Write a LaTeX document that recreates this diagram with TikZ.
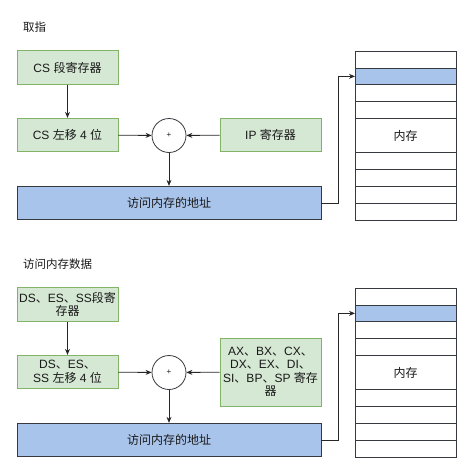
\documentclass[tikz,border=0pt]{standalone}
\usepackage{fontspec}
\setmainfont{Liberation Sans}
\newfontfamily\cjk{Noto Sans CJK SC}
\usetikzlibrary{arrows.meta,positioning}
\definecolor{regfill}{HTML}{D5E8D4}
\definecolor{regline}{HTML}{82B366}
\definecolor{addrfill}{HTML}{A9C4EB}
\definecolor{darkline}{HTML}{36393D}
\begin{document}
\begin{tikzpicture}[
    x=1pt, y=-1pt,
    every node/.style={text=black!90},
    title/.style={anchor=west, inner sep=0pt, font=\cjk\fontsize{11.5}{13.5}\selectfont},
    reg/.style={rectangle, draw=regline, fill=regfill, line width=0.8pt, minimum width=101pt, minimum height=33.5pt, inner sep=1pt, align=center, font=\fontsize{12}{13.5}\selectfont},
    adder/.style={circle, draw=darkline, fill=white, line width=0.8pt, minimum size=34pt, inner sep=0pt, font=\footnotesize},
    addr/.style={rectangle, draw=darkline, fill=addrfill, line width=0.8pt, minimum width=304pt, minimum height=33.5pt, font=\cjk\fontsize{12}{13.5}\selectfont},
    cell/.style={rectangle, draw=darkline, fill=white, line width=0.8pt, minimum width=101pt, minimum height=16.9pt, inner sep=0pt, outer sep=0pt, font=\cjk\fontsize{12}{13.5}\selectfont},
    hit/.style={fill=addrfill},
    link/.style={draw=black!85, line width=0.8pt, -{Stealth[length=6pt,width=5pt]}}
]
\useasboundingbox (0,0) rectangle (474,474);

% fetch instruction
\node[title] (titleA) at (23,27) {取指};
\node[reg] (csreg) at (67.5,67.5) {CS {\cjk 段寄存器}};
\node[reg] (csshift) at (67.5,135) {CS {\cjk 左移} 4 {\cjk 位}};
\node[adder] (addA) at (169,135.5) {+};
\node[reg] (ipreg) at (270.5,135) {IP {\cjk 寄存器}};
\node[addr] (addrA) at (169,203) {访问内存的地址};

\node[cell] (memA1) at (405.5,59.45) {};
\node[cell, hit, below=0pt of memA1] (memA2) {};
\node[cell, below=0pt of memA2] (memA3) {};
\node[cell, below=0pt of memA3] (memA4) {};
\node[cell, minimum height=33.8pt, below=0pt of memA4] (memA5) {内存};
\node[cell, below=0pt of memA5] (memA6) {};
\node[cell, below=0pt of memA6] (memA7) {};
\node[cell, below=0pt of memA7] (memA8) {};
\node[cell, below=0pt of memA8] (memA9) {};

\draw[link] (csreg) -- (csshift);
\draw[link] (csshift) -- (addA);
\draw[link] (ipreg) -- (addA);
\draw[link] (addA) -- (addrA);
\draw[link] (addrA.east) -- ++(17,0) |- (memA2.west);

% access data
\node[title] (titleB) at (23,264) {访问内存数据};
\node[reg] (dsreg) at (67.5,304.5) {DS{\cjk 、}ES{\cjk 、}SS{\cjk 段寄}\\{\cjk 存器}};
\node[reg] (dsshift) at (67.5,372) {DS{\cjk 、}ES{\cjk 、}\\SS {\cjk 左移} 4 {\cjk 位}};
\node[adder] (addB) at (169,372.5) {+};
\node[reg, minimum height=68pt] (gpreg) at (270.5,372) {AX{\cjk 、}BX{\cjk 、}CX{\cjk 、}\\DX{\cjk 、}EX{\cjk 、}DI{\cjk 、}\\SI{\cjk 、}BP{\cjk 、}SP {\cjk 寄存}\\{\cjk 器}};
\node[addr] (addrB) at (169,440) {访问内存的地址};

\node[cell] (memB1) at (405.5,296.45) {};
\node[cell, hit, below=0pt of memB1] (memB2) {};
\node[cell, below=0pt of memB2] (memB3) {};
\node[cell, below=0pt of memB3] (memB4) {};
\node[cell, minimum height=33.8pt, below=0pt of memB4] (memB5) {内存};
\node[cell, below=0pt of memB5] (memB6) {};
\node[cell, below=0pt of memB6] (memB7) {};
\node[cell, below=0pt of memB7] (memB8) {};
\node[cell, below=0pt of memB8] (memB9) {};

\draw[link] (dsreg) -- (dsshift);
\draw[link] (dsshift) -- (addB);
\draw[link] (gpreg) -- (addB);
\draw[link] (addB) -- (addrB);
\draw[link] (addrB.east) -- ++(17,0) |- (memB2.west);
\end{tikzpicture}
\end{document}
